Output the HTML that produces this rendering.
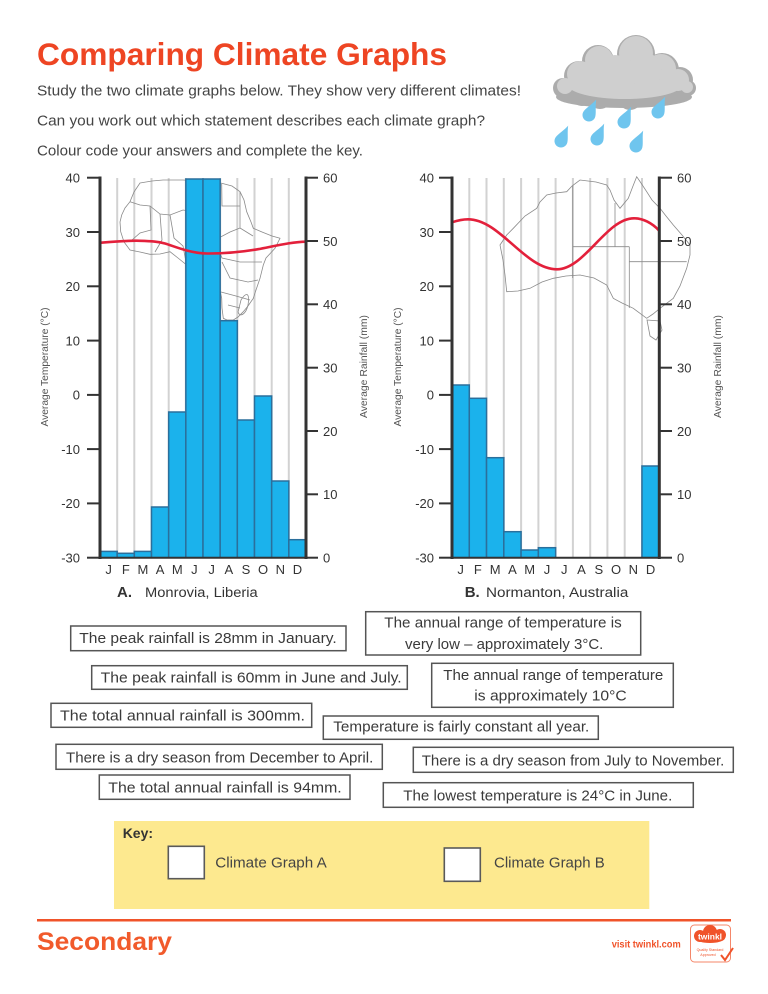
<!DOCTYPE html>
<html>
<head>
<meta charset="utf-8">
<style>
html,body{margin:0;padding:0;background:#fff;}
body{width:768px;height:994px;overflow:hidden;}
svg{display:block;}
text{font-family:"Liberation Sans",Arial,sans-serif;}
</style>
</head>
<body>
<svg width="768" height="994" viewBox="0 0 768 994" xmlns="http://www.w3.org/2000/svg">
<rect width="768" height="994" fill="#fff"/>

<!-- Title & intro -->
<text x="37" y="65" font-size="31.5" font-weight="bold" fill="#ee4523" textLength="410" lengthAdjust="spacingAndGlyphs">Comparing Climate Graphs</text>
<g font-size="15" fill="#444">
<text x="37" y="95.5" textLength="484" lengthAdjust="spacingAndGlyphs">Study the two climate graphs below. They show very different climates!</text>
<text x="37" y="125.5" textLength="448" lengthAdjust="spacingAndGlyphs">Can you work out which statement describes each climate graph?</text>
<text x="37" y="155.5" textLength="326" lengthAdjust="spacingAndGlyphs">Colour code your answers and complete the key.</text>
</g>

<!-- Cloud -->
<g>
<g fill="#acacac">
<ellipse cx="624" cy="97" rx="68" ry="11"/>
<circle cx="563" cy="88" r="10"/>
<circle cx="579" cy="76" r="15"/>
<circle cx="598" cy="61" r="16"/>
<circle cx="636" cy="54" r="19"/>
<circle cx="662" cy="70" r="17"/>
<circle cx="680" cy="80" r="13"/>
<circle cx="688" cy="88" r="8"/>
<circle cx="600" cy="97" r="12"/>
<circle cx="630" cy="98" r="12"/>
<circle cx="660" cy="96" r="11"/>
<circle cx="582" cy="95" r="11"/>
</g>
<g fill="#cfcfcf">
<circle cx="565" cy="86" r="8"/>
<circle cx="580" cy="74" r="13"/>
<circle cx="599" cy="60" r="14"/>
<circle cx="636" cy="53" r="17"/>
<circle cx="661" cy="69" r="15"/>
<circle cx="678" cy="80" r="11"/>
<circle cx="687" cy="87" r="6"/>
<ellipse cx="625" cy="84" rx="58" ry="15"/>
<circle cx="615" cy="72" r="17"/>
<circle cx="645" cy="70" r="17"/>
</g>
<g fill="#6fc5ee">
<path transform="translate(589,115) rotate(25)" d="M0,-17 C2,-10 6.5,-4 6.5,0 A6.5,6.5 0 1 1 -6.5,0 C-6.5,-4 -2,-10 0,-17 Z"/>
<path transform="translate(624,122) rotate(25)" d="M0,-17 C2,-10 6.5,-4 6.5,0 A6.5,6.5 0 1 1 -6.5,0 C-6.5,-4 -2,-10 0,-17 Z"/>
<path transform="translate(658,112) rotate(25)" d="M0,-17 C2,-10 6.5,-4 6.5,0 A6.5,6.5 0 1 1 -6.5,0 C-6.5,-4 -2,-10 0,-17 Z"/>
<path transform="translate(561,141) rotate(25)" d="M0,-17 C2,-10 6.5,-4 6.5,0 A6.5,6.5 0 1 1 -6.5,0 C-6.5,-4 -2,-10 0,-17 Z"/>
<path transform="translate(597,139) rotate(25)" d="M0,-17 C2,-10 6.5,-4 6.5,0 A6.5,6.5 0 1 1 -6.5,0 C-6.5,-4 -2,-10 0,-17 Z"/>
<path transform="translate(636,146) rotate(25)" d="M0,-17 C2,-10 6.5,-4 6.5,0 A6.5,6.5 0 1 1 -6.5,0 C-6.5,-4 -2,-10 0,-17 Z"/>
</g>
</g>

<!-- ============ CHART A ============ -->
<g stroke="#d2d2d2" stroke-width="2">
<line x1="117.2" y1="178" x2="117.2" y2="557"/>
<line x1="134.3" y1="178" x2="134.3" y2="557"/>
<line x1="151.5" y1="178" x2="151.5" y2="557"/>
<line x1="168.7" y1="178" x2="168.7" y2="557"/>
<line x1="185.8" y1="178" x2="185.8" y2="557"/>
<line x1="203" y1="178" x2="203" y2="557"/>
<line x1="220.2" y1="178" x2="220.2" y2="557"/>
<line x1="237.3" y1="178" x2="237.3" y2="557"/>
<line x1="254.5" y1="178" x2="254.5" y2="557"/>
<line x1="271.7" y1="178" x2="271.7" y2="557"/>
<line x1="288.8" y1="178" x2="288.8" y2="557"/>
</g>
<!-- Africa map -->
<g fill="none" stroke="#8a8a8a" stroke-width="0.8">
<path d="M140,183 L152,181 L163,180 L183,180 L200,181 L221.7,183.3 L232,186 L240,191.7 L244,200 L246.7,211.7 L251,222 L253.3,228.3 L262,232 L272,236 L280,238.3 L275,248.3 L266,258 L263.3,265 L260,278.3 L256,290 L253.3,298.3 L248,306 L243.3,311.7 L238,317 L233.3,320 L227,320 L223.3,318.3 L222,308 L221.7,298.3 L219,285 L216.7,275 L205,268 L186.7,265 L178,258 L170,251.7 L160,254 L150,254.3 L140,252 L130,250 L124,242 L120.7,231.7 L120,222 L121.7,215 L125,208 L130,201.7 L134,192 Z"/>
<path d="M130,201.7 L140,205 L150,206 L160,214 L170,215 L183,210 L195,212"/>
<path d="M150,206 L151,230 L140,233 L132,240"/>
<path d="M170,215 L174,238 L183,246 L186,262"/>
<path d="M160,214 L162,240 L155,252"/>
<path d="M240,192 L240,228 L253,236"/>
<path d="M221.7,184 L222,206 L240,206"/>
<path d="M195,212 L200,235 L215,240 L230,232 L240,228"/>
<path d="M215,240 L222,258 L240,262 L262,262"/>
<path d="M222,262 L230,278 L248,282 L258,280"/>
<path d="M221,292 L236,296 L250,300"/>
<path d="M228,305 L240,308"/>
<path d="M241,300 C246,292 250,292 248,305 C246,314 240,318 238,312 Z"/>
</g>
<!-- Bars A -->
<g fill="#1bb2ec" stroke="#2b6f9c" stroke-width="1.5">
<rect x="100" y="551.4" width="17.17" height="6.3"/>
<rect x="117.17" y="553.3" width="17.17" height="4.4"/>
<rect x="134.33" y="551.4" width="17.17" height="6.3"/>
<rect x="151.5" y="507" width="17.17" height="50.7"/>
<rect x="168.67" y="412" width="17.17" height="145.7"/>
<rect x="185.83" y="179" width="17.17" height="378.7"/>
<rect x="203" y="179" width="17.17" height="378.7"/>
<rect x="220.17" y="320.7" width="17.17" height="237"/>
<rect x="237.33" y="420" width="17.17" height="137.7"/>
<rect x="254.5" y="396" width="17.17" height="161.7"/>
<rect x="271.67" y="481" width="17.17" height="76.7"/>
<rect x="288.83" y="539.7" width="17.17" height="18"/>
</g>
<!-- Temp A -->
<path d="M101,242.7 C118,241.3 130,240.4 140,240.8 C152,241.2 158,241.5 165,243.5 C175,246.5 190,253.3 207,253.5 C222,253.6 240,252.3 258,249.2 C275,246 292,241.8 306,241.7" fill="none" stroke="#e3203b" stroke-width="2.6"/>
<!-- Axes A -->
<g stroke="#333" stroke-width="3" fill="none">
<line x1="100" y1="176.5" x2="100" y2="559"/>
<line x1="306" y1="176.5" x2="306" y2="559"/>
</g>
<line x1="100" y1="557.7" x2="306" y2="557.7" stroke="#333" stroke-width="2"/>
<g stroke="#333" stroke-width="2">
<line x1="87" y1="177.7" x2="100" y2="177.7"/>
<line x1="87" y1="232" x2="100" y2="232"/>
<line x1="87" y1="286.3" x2="100" y2="286.3"/>
<line x1="87" y1="340.6" x2="100" y2="340.6"/>
<line x1="87" y1="394.9" x2="100" y2="394.9"/>
<line x1="87" y1="449.1" x2="100" y2="449.1"/>
<line x1="87" y1="503.4" x2="100" y2="503.4"/>
<line x1="87" y1="557.7" x2="100" y2="557.7"/>
<line x1="306" y1="177.7" x2="318" y2="177.7"/>
<line x1="306" y1="241" x2="318" y2="241"/>
<line x1="306" y1="304.3" x2="318" y2="304.3"/>
<line x1="306" y1="367.7" x2="318" y2="367.7"/>
<line x1="306" y1="431" x2="318" y2="431"/>
<line x1="306" y1="494.3" x2="318" y2="494.3"/>
<line x1="306" y1="557.7" x2="318" y2="557.7"/>
</g>
<g font-size="13" fill="#333" text-anchor="end">
<text x="80" y="182.5">40</text>
<text x="80" y="236.8">30</text>
<text x="80" y="291.1">20</text>
<text x="80" y="345.4">10</text>
<text x="80" y="399.7">0</text>
<text x="80" y="453.9">-10</text>
<text x="80" y="508.2">-20</text>
<text x="80" y="562.5">-30</text>
</g>
<g font-size="13" fill="#333">
<text x="323" y="182.5">60</text>
<text x="323" y="245.8">50</text>
<text x="323" y="309.1">40</text>
<text x="323" y="372.5">30</text>
<text x="323" y="435.8">20</text>
<text x="323" y="499.1">10</text>
<text x="323" y="562.5">0</text>
</g>
<text transform="translate(48,367) rotate(-90)" font-size="10" fill="#555" text-anchor="middle" textLength="119" lengthAdjust="spacingAndGlyphs">Average Temperature (°C)</text>
<text transform="translate(367,366.5) rotate(-90)" font-size="10" fill="#555" text-anchor="middle" textLength="103" lengthAdjust="spacingAndGlyphs">Average Rainfall (mm)</text>
<g font-size="13" fill="#333" text-anchor="middle">
<text x="108.6" y="574">J</text>
<text x="125.8" y="574">F</text>
<text x="142.9" y="574">M</text>
<text x="160.1" y="574">A</text>
<text x="177.3" y="574">M</text>
<text x="194.4" y="574">J</text>
<text x="211.6" y="574">J</text>
<text x="228.8" y="574">A</text>
<text x="245.9" y="574">S</text>
<text x="263.1" y="574">O</text>
<text x="280.3" y="574">N</text>
<text x="297.4" y="574">D</text>
</g>
<text x="117" y="597" font-size="15" font-weight="bold" fill="#333">A.</text>
<text x="145" y="597" font-size="13.5" fill="#333" textLength="112.7" lengthAdjust="spacingAndGlyphs">Monrovia, Liberia</text>

<!-- ============ CHART B ============ -->
<g stroke="#d2d2d2" stroke-width="2">
<line x1="469.3" y1="178" x2="469.3" y2="557"/>
<line x1="486.5" y1="178" x2="486.5" y2="557"/>
<line x1="503.8" y1="178" x2="503.8" y2="557"/>
<line x1="521.1" y1="178" x2="521.1" y2="557"/>
<line x1="538.4" y1="178" x2="538.4" y2="557"/>
<line x1="555.6" y1="178" x2="555.6" y2="557"/>
<line x1="572.9" y1="178" x2="572.9" y2="557"/>
<line x1="590.2" y1="178" x2="590.2" y2="557"/>
<line x1="607.4" y1="178" x2="607.4" y2="557"/>
<line x1="624.7" y1="178" x2="624.7" y2="557"/>
<line x1="642" y1="178" x2="642" y2="557"/>
</g>
<!-- Australia map -->
<g fill="none" stroke="#8a8a8a" stroke-width="0.8">
<path d="M506.7,235 L500,245 L503,260 L505,275 L506.7,291.7 L518,291 L530,288.3 L542,282 L553.3,278.3 L566,276 L580,275 L594,278 L606.7,285 L613.3,298.3 L622,303 L633.3,308.3 L646.7,318.3 L653,314 L660,308.3 L673.3,298.3 L680,286 L686.7,268.3 L690,255 L690,245 L682,235 L673.3,225 L666,216 L660,208.3 L652,200 L646.7,191.7 L641,183 L636.7,176.7 L633,186 L628.3,198.3 L620,208.3 L614,200 L610,190 L606.7,185 L596,182 L580,180 L572,186 L566.7,191.7 L556,193 L546.7,195 L540,202 L536.7,208.3 L525,216 L513.3,228.3 Z"/>
<path d="M647,320 L660,321 L662,330 L656,340 L650,336 Z"/>
<path d="M572.7,186 L572.7,278"/>
<path d="M572.7,246.7 L629.3,246.7"/>
<path d="M615,203 L615,246.7"/>
<path d="M629.3,246.7 L629.3,308"/>
<path d="M629.3,261.7 L686.7,261.7"/>
</g>
<!-- Bars B -->
<g fill="#1bb2ec" stroke="#2b6f9c" stroke-width="1.5">
<rect x="452" y="385" width="17.27" height="172.7"/>
<rect x="469.27" y="398.3" width="17.27" height="159.4"/>
<rect x="486.54" y="457.7" width="17.27" height="100"/>
<rect x="503.81" y="531.7" width="17.27" height="26"/>
<rect x="521.08" y="550" width="17.27" height="7.7"/>
<rect x="538.35" y="547.7" width="17.27" height="10"/>
<rect x="641.97" y="466" width="17.27" height="91.7"/>
</g>
<!-- Temp B -->
<path d="M452,222.3 C458,220.3 463,219.3 468,219.3 C500,219.3 525,269.3 557,269.3 C584.7,269.3 606.3,218.3 634,218.3 C643,218.3 652,223 659,230.5" fill="none" stroke="#e3203b" stroke-width="2.6"/>
<!-- Axes B -->
<g stroke="#333" stroke-width="3" fill="none">
<line x1="452" y1="176.5" x2="452" y2="559"/>
<line x1="659.3" y1="176.5" x2="659.3" y2="559"/>
</g>
<line x1="452" y1="557.7" x2="659.3" y2="557.7" stroke="#333" stroke-width="2"/>
<g stroke="#333" stroke-width="2">
<line x1="439" y1="177.7" x2="452" y2="177.7"/>
<line x1="439" y1="232" x2="452" y2="232"/>
<line x1="439" y1="286.3" x2="452" y2="286.3"/>
<line x1="439" y1="340.6" x2="452" y2="340.6"/>
<line x1="439" y1="394.9" x2="452" y2="394.9"/>
<line x1="439" y1="449.1" x2="452" y2="449.1"/>
<line x1="439" y1="503.4" x2="452" y2="503.4"/>
<line x1="439" y1="557.7" x2="452" y2="557.7"/>
<line x1="659.3" y1="177.7" x2="672" y2="177.7"/>
<line x1="659.3" y1="241" x2="672" y2="241"/>
<line x1="659.3" y1="304.3" x2="672" y2="304.3"/>
<line x1="659.3" y1="367.7" x2="672" y2="367.7"/>
<line x1="659.3" y1="431" x2="672" y2="431"/>
<line x1="659.3" y1="494.3" x2="672" y2="494.3"/>
<line x1="659.3" y1="557.7" x2="672" y2="557.7"/>
</g>
<g font-size="13" fill="#333" text-anchor="end">
<text x="434" y="182.5">40</text>
<text x="434" y="236.8">30</text>
<text x="434" y="291.1">20</text>
<text x="434" y="345.4">10</text>
<text x="434" y="399.7">0</text>
<text x="434" y="453.9">-10</text>
<text x="434" y="508.2">-20</text>
<text x="434" y="562.5">-30</text>
</g>
<g font-size="13" fill="#333">
<text x="677" y="182.5">60</text>
<text x="677" y="245.8">50</text>
<text x="677" y="309.1">40</text>
<text x="677" y="372.5">30</text>
<text x="677" y="435.8">20</text>
<text x="677" y="499.1">10</text>
<text x="677" y="562.5">0</text>
</g>
<text transform="translate(401,367) rotate(-90)" font-size="10" fill="#555" text-anchor="middle" textLength="119" lengthAdjust="spacingAndGlyphs">Average Temperature (°C)</text>
<text transform="translate(721,366.5) rotate(-90)" font-size="10" fill="#555" text-anchor="middle" textLength="103" lengthAdjust="spacingAndGlyphs">Average Rainfall (mm)</text>
<g font-size="13" fill="#333" text-anchor="middle">
<text x="460.6" y="574">J</text>
<text x="477.9" y="574">F</text>
<text x="495.2" y="574">M</text>
<text x="512.4" y="574">A</text>
<text x="529.7" y="574">M</text>
<text x="547" y="574">J</text>
<text x="564.3" y="574">J</text>
<text x="581.5" y="574">A</text>
<text x="598.8" y="574">S</text>
<text x="616.1" y="574">O</text>
<text x="633.3" y="574">N</text>
<text x="650.6" y="574">D</text>
</g>
<text x="464.7" y="597" font-size="15" font-weight="bold" fill="#333">B.</text>
<text x="486" y="597" font-size="13.5" fill="#333" textLength="142.3" lengthAdjust="spacingAndGlyphs">Normanton, Australia</text>

<!-- ============ STATEMENTS ============ -->
<g fill="#fff" stroke="#555" stroke-width="1.5">
<rect x="70.7" y="626" width="275.3" height="24.7"/>
<rect x="365.7" y="611.7" width="275" height="43.3"/>
<rect x="91.7" y="665.7" width="315.6" height="23.6"/>
<rect x="431.7" y="663.3" width="241.6" height="44"/>
<rect x="51" y="703.3" width="260.7" height="24"/>
<rect x="323.3" y="716" width="275" height="23.3"/>
<rect x="56" y="744.3" width="326.3" height="25"/>
<rect x="413.3" y="747.3" width="320" height="25"/>
<rect x="99.3" y="775" width="250.7" height="24.3"/>
<rect x="383.3" y="782.7" width="310" height="24.6"/>
</g>
<g font-size="15" fill="#3a3a3a">
<text x="79.3" y="643" textLength="257.4" lengthAdjust="spacingAndGlyphs">The peak rainfall is 28mm in January.</text>
<text x="384.3" y="627.5" textLength="237.4" lengthAdjust="spacingAndGlyphs">The annual range of temperature is</text>
<text x="405" y="649" textLength="198.3" lengthAdjust="spacingAndGlyphs">very low – approximately 3°C.</text>
<text x="100.7" y="682.7" textLength="301" lengthAdjust="spacingAndGlyphs">The peak rainfall is 60mm in June and July.</text>
<text x="443.3" y="680" textLength="220" lengthAdjust="spacingAndGlyphs">The annual range of temperature</text>
<text x="474.3" y="700.7" textLength="152.4" lengthAdjust="spacingAndGlyphs">is approximately 10°C</text>
<text x="60" y="720.7" textLength="245" lengthAdjust="spacingAndGlyphs">The total annual rainfall is 300mm.</text>
<text x="333.3" y="731.3" textLength="256" lengthAdjust="spacingAndGlyphs">Temperature is fairly constant all year.</text>
<text x="66" y="762.5" textLength="307.3" lengthAdjust="spacingAndGlyphs">There is a dry season from December to April.</text>
<text x="421.7" y="765.7" textLength="302.6" lengthAdjust="spacingAndGlyphs">There is a dry season from July to November.</text>
<text x="108.3" y="792.7" textLength="233.4" lengthAdjust="spacingAndGlyphs">The total annual rainfall is 94mm.</text>
<text x="403.3" y="800.5" textLength="269" lengthAdjust="spacingAndGlyphs">The lowest temperature is 24°C in June.</text>
</g>

<!-- ============ KEY ============ -->
<rect x="114" y="821" width="535.3" height="88" fill="#fde98f"/>
<text x="122.7" y="838" font-size="14" font-weight="bold" fill="#333">Key:</text>
<rect x="168.3" y="846.3" width="36" height="32.4" fill="#fff" stroke="#5a5a5a" stroke-width="1.6"/>
<rect x="444.3" y="848" width="36" height="33.3" fill="#fff" stroke="#5a5a5a" stroke-width="1.6"/>
<text x="215.3" y="867.5" font-size="15" fill="#444" textLength="111.4" lengthAdjust="spacingAndGlyphs">Climate Graph A</text>
<text x="494" y="867.5" font-size="15" fill="#444" textLength="110.7" lengthAdjust="spacingAndGlyphs">Climate Graph B</text>

<!-- ============ FOOTER ============ -->
<line x1="37" y1="920.3" x2="731" y2="920.3" stroke="#f0532a" stroke-width="2.5"/>
<text x="37" y="950" font-size="25" font-weight="bold" fill="#f15a2b" textLength="135" lengthAdjust="spacingAndGlyphs">Secondary</text>
<text x="611.7" y="947.5" font-size="10.5" font-weight="bold" fill="#f0532a" textLength="69" lengthAdjust="spacingAndGlyphs">visit twinkl.com</text>
<rect x="690.5" y="925" width="40" height="37" rx="4" fill="#fff" stroke="#f4876a" stroke-width="1"/>
<g fill="#f0532a">
<circle cx="700" cy="936" r="6"/>
<circle cx="710" cy="932" r="7"/>
<circle cx="720" cy="935" r="6"/>
<ellipse cx="710" cy="938" rx="15" ry="5"/>
</g>
<text x="710" y="939.5" font-size="8.5" font-weight="bold" fill="#fff" text-anchor="middle">twinkl</text>
<text x="710" y="951" font-size="3.6" fill="#f0532a" text-anchor="middle">Quality Standard</text>
<text x="708" y="956" font-size="3.6" fill="#f0532a" text-anchor="middle">Approved</text>
<path d="M721,955 L725,960 L733,948" fill="none" stroke="#f0532a" stroke-width="2"/>
</svg>
</body>
</html>
